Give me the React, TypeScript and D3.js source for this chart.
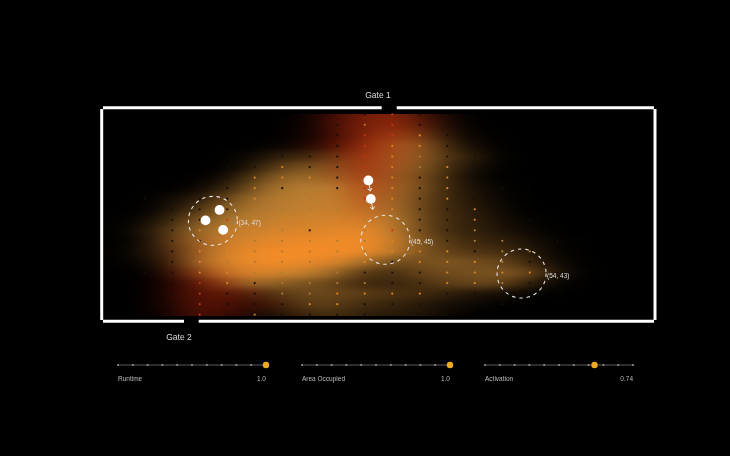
import React from "react";
import * as D3 from "d3";

const cols = D3.range(16);
const rows = D3.range(20);

const intensity = [
  [0,0,0,0,0,0,.06,.3,.48,.6,.32,.08,0,0,0,0],
  [0,0,0,0,0,0,.06,.34,.52,.65,.42,.12,0,0,0,0],
  [0,0,0,0,0,0,.08,.3,.58,.7,.52,.18,.03,0,0,0],
  [0,0,0,0,0,.04,.14,.36,.68,.72,.6,.28,.08,0,0,0],
  [0,0,0,0,.08,.25,.3,.5,.72,.72,.56,.35,.18,0,0,0],
  [0,0,0,0,.2,.42,.48,.56,.74,.68,.52,.32,.1,0,0,0],
  [0,0,0,.1,.38,.56,.58,.62,.76,.64,.48,.28,.06,0,0,0],
  [0,0,.05,.26,.5,.64,.66,.7,.78,.66,.48,.28,.12,.02,0,0],
  [0,.08,.2,.44,.6,.68,.7,.74,.78,.64,.45,.28,.15,.03,0,0],
  [0,.14,.36,.54,.64,.7,.74,.76,.8,.64,.44,.28,.2,.05,0,0],
  [.05,.28,.5,.64,.7,.76,.8,.82,.86,.68,.45,.3,.22,.1,.02,0],
  [.12,.38,.58,.72,.78,.84,.86,.88,.92,.74,.46,.3,.24,.14,.05,0],
  [.08,.42,.62,.78,.86,.92,.95,.95,.98,.78,.5,.35,.28,.22,.12,.02],
  [.12,.36,.62,.84,.95,.98,.98,.98,.95,.74,.5,.4,.34,.32,.18,.03],
  [.06,.3,.66,.84,.95,.98,.92,.84,.62,.44,.46,.5,.45,.42,.28,.06],
  [0,.24,.6,.8,.86,.8,.74,.56,.36,.32,.42,.45,.46,.5,.44,.12],
  [0,.16,.44,.6,.6,.52,.48,.4,.28,.26,.32,.4,.42,.42,.22,.03],
  [0,.18,.38,.4,.34,.38,.44,.42,.38,.34,.3,.24,.14,.1,.03,0],
  [0,.16,.36,.3,.22,.3,.4,.38,.3,.26,.2,.1,.06,.01,0,0],
  [0,.12,.32,.25,.1,.18,.3,.32,.22,.18,.15,.06,0,0,0,0],
];

const redness = [
  [0,0,0,0,0,0,1,1,1,1,.9,.5,0,0,0,0],
  [0,0,0,0,0,0,1,1,1,1,.8,.4,0,0,0,0],
  [0,0,0,0,0,0,1,1,1,.9,.5,.2,0,0,0,0],
  [0,0,0,0,0,0,.8,1,1,.7,.2,0,0,0,0,0],
  [0,0,0,0,0,0,0,.6,1,.6,.1,0,0,0,0,0],
  [0,0,0,0,0,0,0,.4,1,.5,0,0,0,0,0,0],
  [0,0,0,0,0,0,0,.3,.9,.4,0,0,0,0,0,0],
  [0,0,0,0,0,0,0,0,.8,.3,0,0,0,0,0,0],
  [0,0,0,0,0,0,0,0,.6,.2,0,0,0,0,0,0],
  [0,0,0,0,0,0,0,0,.4,.1,0,0,0,0,0,0],
  [0,0,0,0,0,0,0,0,.2,0,0,0,0,0,0,0],
  [0,0,0,0,0,0,0,0,0,0,0,0,0,0,0,0],
  [0,.2,.2,0,0,0,0,0,0,0,0,0,0,0,0,0],
  [0,.3,.2,0,0,0,0,0,0,0,0,0,0,0,0,0],
  [0,.3,.2,0,0,0,0,0,0,0,0,0,0,0,0,0],
  [.7,.7,.6,.2,0,0,0,0,0,0,0,0,0,0,0,0],
  [1,1,1,.6,0,0,0,0,0,0,0,0,0,0,0,0],
  [1,1,1,1,.5,0,0,0,0,0,0,0,0,0,0,0],
  [1,1,1,1,.8,.3,0,0,0,0,0,0,0,0,0,0],
  [1,1,1,1,.8,.3,0,0,0,0,0,0,0,0,0,0],
];

// 0 none, 1 black, 2 orange, 3 red, 4 dim tan
const dotKinds = [
  [0,0,0,0,0,0,0,0,1,3,1,0,0,0,0,0],
  [0,0,0,0,0,0,0,1,4,3,1,1,0,0,0,0],
  [0,0,0,0,0,0,0,1,3,3,2,1,0,0,0,0],
  [0,0,0,0,0,0,0,1,3,2,2,1,1,0,0,0],
  [0,0,0,0,1,1,1,1,3,2,4,1,1,0,0,0],
  [0,0,0,1,1,2,1,1,3,2,4,2,1,0,0,0],
  [0,0,0,1,2,2,2,1,3,2,1,2,1,0,0,0],
  [0,0,1,1,2,1,4,1,3,2,1,2,1,1,0,0],
  [1,1,1,1,2,4,4,4,3,2,1,2,1,1,0,0],
  [0,1,1,1,4,4,4,4,4,2,1,1,2,1,0,0],
  [1,1,1,3,2,2,2,2,4,4,1,1,2,1,1,0],
  [0,1,2,2,2,4,1,2,4,3,1,1,4,1,1,0],
  [0,1,1,2,4,4,4,4,4,2,2,1,4,4,1,1],
  [0,1,2,2,4,4,4,4,4,2,2,2,1,4,4,1],
  [1,1,2,4,4,4,4,2,2,1,2,2,2,4,1,1],
  [1,1,2,2,4,4,4,4,1,1,1,2,2,2,2,1],
  [0,1,3,2,1,4,4,4,4,1,1,2,2,4,1,1],
  [0,1,3,1,1,4,4,2,2,2,2,1,1,1,0,0],
  [0,1,3,1,1,1,2,2,1,1,1,1,1,1,0,0],
  [0,0,3,1,4,1,1,1,1,0,0,0,0,0,0,0],
];
const dotColors = ["none", "#17110a", "#e0851f", "#c8301a", "#a97c30"];

const zoneLabels = ["(34, 47)", "(45, 45)", "(54, 43)"];
const zoneCol = [2.48, 8.75, 13.7];
const zoneRow = [10.1, 11.9, 15.1];

const peopleCol = [2.21, 2.72, 2.85, 8.13, 8.22];
const peopleRow = [10.06, 9.07, 10.96, 6.27, 8.02];
const peopleMoving = [false, false, false, true, true];

const sliderNames = ["Runtime", "Area Occupied", "Activation"];
const sliderValues = [1.0, 1.0, 0.74];
const sliderText = ["1.0", "1.0", "0.74"];
const sliderTicks = D3.range(0, 1.01, 0.1);

const FONT = "'Liberation Sans', Arial, sans-serif";

export default function App() {
  const x = D3.scaleLinear().domain([0, 15]).range([144.7, 557.3]);
  const y = D3.scaleLinear().domain([0, 19]).range([114.3, 314.7]);
  const orange = D3.scaleLinear<string>().domain([0, 0.3, 0.65, 0.95]).range(["#000000", "#40290e", "#b27a30", "#ee8a28"]);
  const red = D3.scaleLinear<string>().domain([0, 0.3, 0.65, 0.95]).range(["#000000", "#4a0e04", "#932a0c", "#c85018"]);
  const cw = x(1) - x(0);
  const ch = y(1) - y(0);
  const sliderStart = [118, 302, 485];
  const sliderLen = 148;

  return (
    <svg width={730} height={456} style={{ position: "absolute", left: 0, top: 0, background: "#000" }} fontFamily={FONT}>
      <defs>
        <filter id="heat" x="-20%" y="-20%" width="140%" height="140%" colorInterpolationFilters="sRGB">
          <feGaussianBlur stdDeviation="17 3.5" />
        </filter>
        <filter id="soft" x="-2%" y="-2%" width="104%" height="104%">
          <feGaussianBlur stdDeviation="0.45" />
        </filter>
        <clipPath id="room"><rect x={104} y={114} width={549} height={202} /></clipPath>
        <marker id="arr" markerUnits="userSpaceOnUse" markerWidth={6} markerHeight={6} refX={3} refY={3} orient="auto">
          <path d="M0.5,0.8L3,3L0.5,5.2" fill="none" stroke="#f0f0f0" strokeWidth={0.9} />
        </marker>
      </defs>
      <rect width={730} height={456} fill="#000" />
      <g clipPath="url(#room)">
        <g filter="url(#heat)">
          {rows.map(r => cols.map(c => {
            const v = intensity[r][c];
            const color = D3.interpolateRgb(orange(v), red(v))(redness[r][c]);
            const top = r === 0 ? y(0) - 30 : y(r) - ch / 2;
            const h = r === 0 || r === 19 ? ch / 2 + 30 : ch;
            return <rect key={`${r}-${c}`} x={x(c) - cw / 2} y={top} width={cw + 0.5} height={h + 0.5} fill={color} />;
          }))}
        </g>
      </g>
      <g filter="url(#soft)">
        {rows.map(r => cols.map(c => dotKinds[r][c] ? (
          <circle key={`d${r}-${c}`} cx={x(c)} cy={y(r)} r={1.1} fill={dotColors[dotKinds[r][c]]} />
        ) : null))}
        <g stroke="#fff" strokeWidth={3} fill="none">
          <path d={`M103,107.7H381.7M396.7,107.7H654`} />
          <path d={`M103,321.3H184M198.7,321.3H654`} />
          <path d={`M101.7,109V320`} />
          <path d={`M655,109V320`} />
        </g>
        <text x={378} y={98} fontSize={8.5} fill="#ddd" textAnchor="middle">Gate 1</text>
        <text x={179} y={340} fontSize={8.5} fill="#ddd" textAnchor="middle">Gate 2</text>
        {zoneLabels.map((t, i) => (
          <g key={t}>
            <circle cx={x(zoneCol[i])} cy={y(zoneRow[i])} r={24.5} fill="none" stroke="#e4e4e4" strokeWidth={1.1} strokeDasharray="3.5 3.9" />
            <text x={x(zoneCol[i]) + 25.5} y={y(zoneRow[i]) + 4.5} fontSize={6.5} fill="#ddd">{t}</text>
          </g>
        ))}
        {peopleCol.map((c, i) => (
          <g key={i}>
            {peopleMoving[i] && (
              <line x1={x(c)} y1={y(peopleRow[i])} x2={x(c) + 2} y2={y(peopleRow[i]) + 10.5} stroke="#f0f0f0" strokeWidth={0.9} markerEnd="url(#arr)" />
            )}
            <circle cx={x(c)} cy={y(peopleRow[i])} r={4.9} fill="#fff" />
          </g>
        ))}
        {sliderNames.map((name, i) => {
          const s = D3.scaleLinear().domain([0, 1]).range([sliderStart[i], sliderStart[i] + sliderLen]);
          return (
            <g key={name}>
              <line x1={s(0)} x2={s(1)} y1={365} y2={365} stroke="#666" strokeWidth={0.9} />
              {sliderTicks.map(t => <circle key={t} cx={s(t)} cy={365} r={1} fill="#999" />)}
              <circle cx={s(sliderValues[i])} cy={365} r={3.2} fill="#eeaa20" />
              <text x={s(0)} y={380.5} fontSize={6.5} fill="#bbb">{name}</text>
              <text x={s(1)} y={380.5} fontSize={6.5} fill="#bbb" textAnchor="end">{sliderText[i]}</text>
            </g>
          );
        })}
      </g>
    </svg>
  );
}
